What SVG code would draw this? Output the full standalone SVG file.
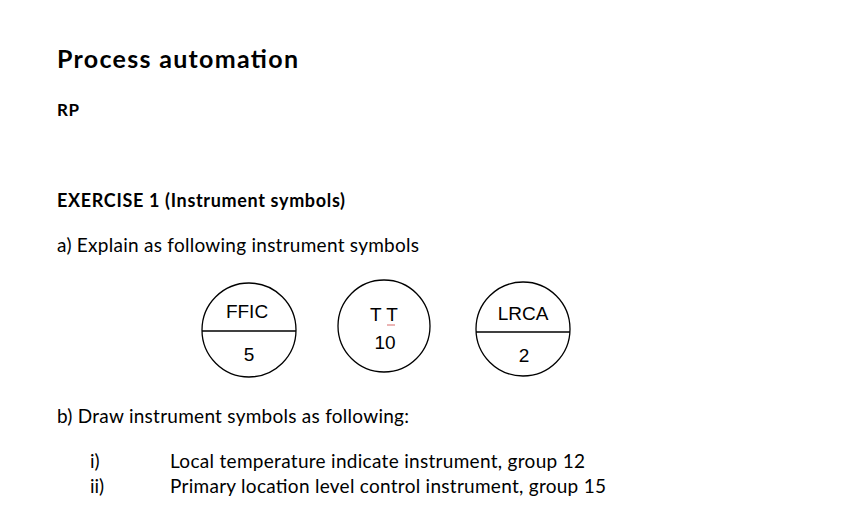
<svg xmlns="http://www.w3.org/2000/svg" width="865" height="517" viewBox="0 0 865 517">
<style>
.t{font-family:Lato,"Open Sans",sans-serif;fill:#000}
.b{font-weight:bold}
.s{font-family:"Liberation Sans",Arial,sans-serif;font-size:19px;fill:#000;text-anchor:middle}
.c{fill:none;stroke:#000;stroke-width:1.3}
</style>
<rect width="865" height="517" fill="#fff"/>
<text class="t b" x="57" y="68" font-size="25" textLength="241">Process automation</text>
<text class="t b" x="57" y="116" font-size="17" textLength="22">RP</text>
<text class="t b" x="57" y="207" font-size="18" textLength="288">EXERCISE 1 (Instrument symbols)</text>
<text class="t" x="57" y="252" font-size="19" textLength="362">a) Explain as following instrument symbols</text>
<g id="ffic">
<circle class="c" cx="249" cy="330" r="47"/>
<line class="c" x1="202" y1="331" x2="296" y2="331"/>
<text class="s" x="247" y="318">FFIC</text>
<text class="s" x="249" y="361">5</text>
</g>
<g id="tt">
<circle class="c" cx="384" cy="326" r="46"/>
<text class="s" x="384" y="321">T T</text>
<line x1="387" y1="325" x2="395" y2="325" stroke="#c44" stroke-width="0.8"/>
<text class="s" x="385" y="349">10</text>
</g>
<g id="lrca">
<circle class="c" cx="523" cy="329" r="47"/>
<line class="c" x1="476" y1="332" x2="570" y2="332"/>
<text class="s" x="523" y="320">LRCA</text>
<text class="s" x="524" y="362">2</text>
</g>
<text class="t" x="57" y="423" font-size="19" textLength="352">b) Draw instrument symbols as following:</text>
<text class="t" x="90" y="468" font-size="19">i)</text>
<text class="t" x="90" y="493" font-size="19">ii)</text>
<text class="t" x="170" y="468" font-size="19" textLength="415">Local temperature indicate instrument, group 12</text>
<text class="t" x="170" y="493" font-size="19" textLength="436">Primary location level control instrument, group 15</text>
</svg>
